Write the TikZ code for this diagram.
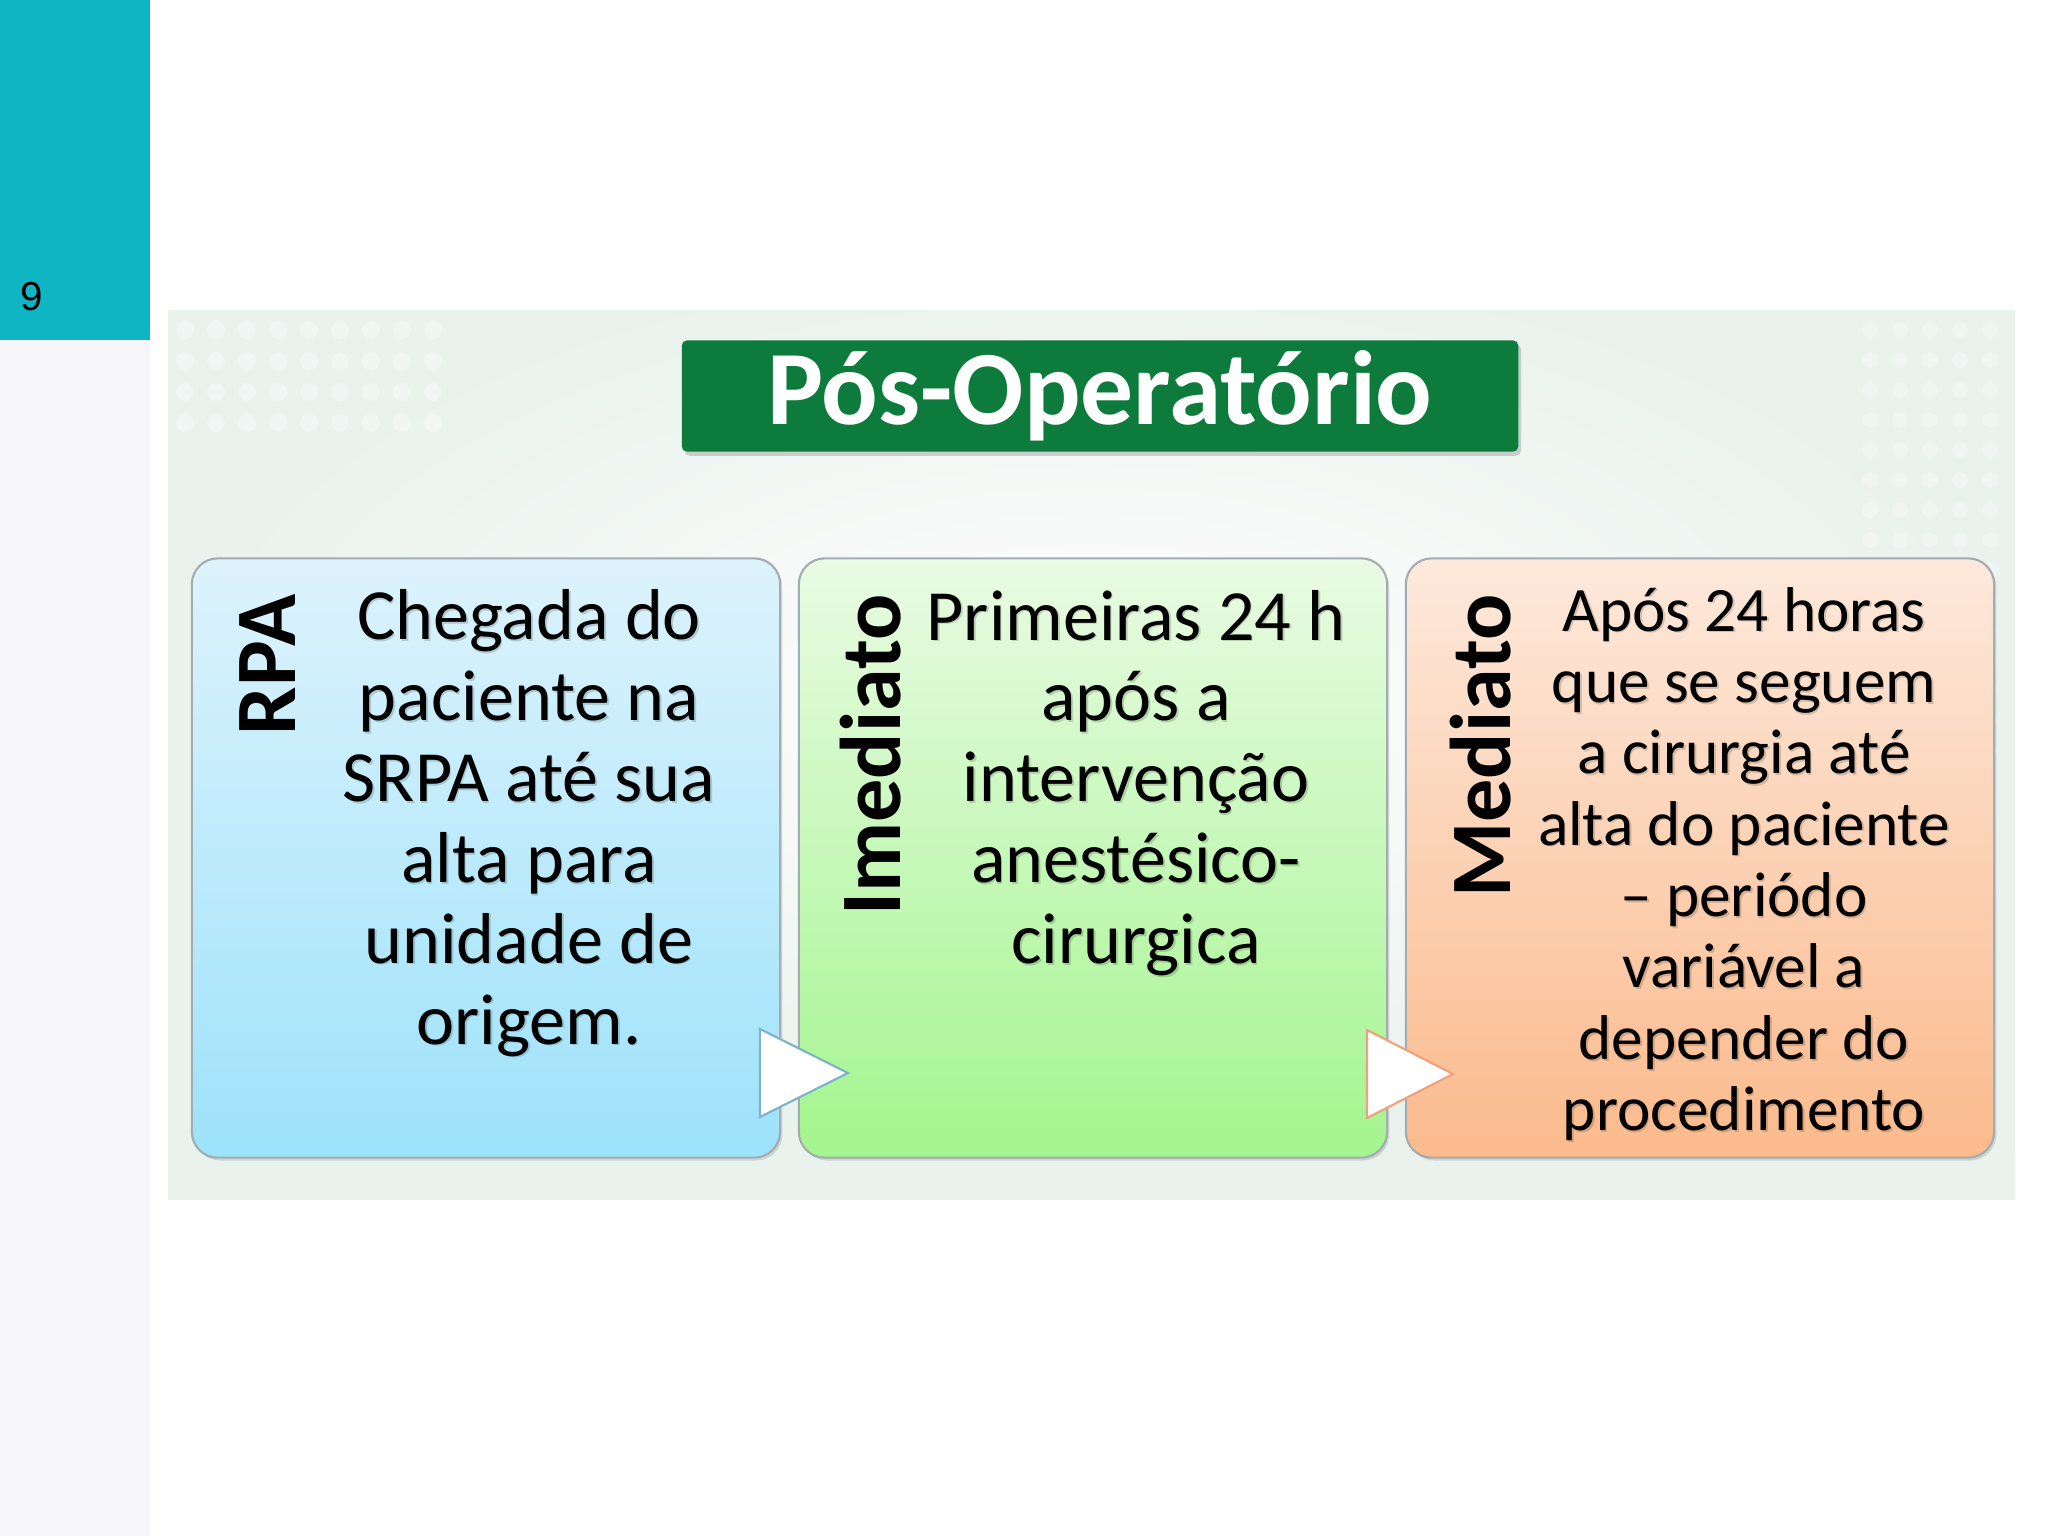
\documentclass[tikz,border=0pt]{standalone}
\usepackage{fontspec}
\setmainfont{Carlito}
\newfontfamily\arialfont{Liberation Sans}
\usetikzlibrary{shadows}
\definecolor{slidecyan}{RGB}{16,181,196}
\definecolor{sidegray}{HTML}{F6F5F8}
\definecolor{bgouter}{HTML}{E9F2ED}
\definecolor{titlegreen}{HTML}{0D7B3B}
\definecolor{boxline}{HTML}{A3ADB1}
\definecolor{blueTop}{HTML}{DDF3FC}
\definecolor{blueBot}{HTML}{9DE2FB}
\definecolor{greenTop}{HTML}{E9FBE3}
\definecolor{greenBot}{HTML}{A3F58E}
\definecolor{orangeTop}{HTML}{FDE9DC}
\definecolor{orangeBot}{HTML}{FBBA8C}
\definecolor{arrowblue}{HTML}{7FB3CC}
\definecolor{arroworange}{HTML}{F0A07E}
\tikzset{
  phasebox/.style={draw=boxline, line width=0.6pt, rounded corners=0.26cm,
    minimum width=5.88cm, minimum height=5.99cm, inner sep=0pt,
    drop shadow={shadow xshift=0.6pt, shadow yshift=-0.8pt, opacity=0.25}},
  titlebox/.style={fill=titlegreen, rounded corners=0.05cm, minimum width=8.36cm,
    minimum height=1.11cm, inner sep=0pt, text=white,
    font=\bfseries\fontsize{30}{32}\selectfont,
    drop shadow={shadow xshift=0.8pt, shadow yshift=-1.2pt, opacity=0.35}},
  sidelabel/.style={rotate=90, anchor=east, inner sep=0pt,
    font=\bfseries\fontsize{24.5}{26}\selectfont},
  bodytext/.style={align=center, inner sep=0pt, font=\fontsize{20.5}{23}\selectfont},
  bodytextsmall/.style={align=center, inner sep=0pt, font=\fontsize{18}{20.3}\selectfont},
  textshadow/.style={text=black, opacity=0.16, xshift=0.5pt, yshift=-0.5pt},
  steparrow/.style={fill=white, line width=0.6pt, line join=miter}
}
\begin{document}
\begin{tikzpicture}[x=0.01cm, y=-0.01cm]
\useasboundingbox (0,0) rectangle (2048,1536);
\fill[white] (0,0) rectangle (2048,1536);
% left side bar
\fill[slidecyan] (0,0) rectangle (150,340);
\fill[sidegray] (0,340) rectangle (150,1536);
\node[font=\arialfont\fontsize{11.5}{13}\selectfont, inner sep=0pt] (pagenum) at (32,297) {9};
% picture background
\begin{scope}
\clip (168,310) rectangle (2015,1200);
\fill[bgouter] (168,310) rectangle (2015,1200);
\shade[inner color=white, outer color=bgouter] (168,250) rectangle (2015,1150);
% faint dots
\foreach \i in {0,...,8}{
  \foreach \j in {0,...,3}{
    \fill[white, opacity=0.35] (185+\i*31,330+\j*31) circle (9);
  }
}
\foreach \i in {0,...,4}{
  \foreach \j in {0,...,14}{
    \fill[white, opacity=0.3] (1870+\i*30,330+\j*30) circle (8);
  }
}
\end{scope}
% title
\node[titlebox] (title) at (1100,396) {Pós-Operatório};
% phase boxes
\node[phasebox, top color=blueTop, bottom color=blueBot] (box1) at (486,858) {};
\node[phasebox, top color=greenTop, bottom color=greenBot] (box2) at (1093,858) {};
\node[phasebox, top color=orangeTop, bottom color=orangeBot] (box3) at (1700,858) {};
% arrows between boxes
\coordinate (a1t) at (760,1029);
\coordinate (a1p) at (848,1073);
\coordinate (a1b) at (760,1117);
\draw[steparrow, draw=arrowblue] (a1t) -- (a1p) -- (a1b) -- cycle;
\coordinate (a2t) at (1367,1030);
\coordinate (a2p) at (1453,1074);
\coordinate (a2b) at (1367,1118);
\draw[steparrow, draw=arroworange] (a2t) -- (a2p) -- (a2b) -- cycle;
% labels
\node[sidelabel] (lab1) at (268,594) {RPA};
\node[sidelabel] (lab2) at (871,594) {Imediato};
\node[sidelabel] (lab3) at (1481,594) {Mediato};
% texts (with soft shadow)
\node[bodytext, textshadow] (txt1s) at (529,823) {Chegada do\\paciente na\\SRPA até sua\\alta para\\unidade de\\origem.};
\node[bodytext] (txt1) at (529,823) {Chegada do\\paciente na\\SRPA até sua\\alta para\\unidade de\\origem.};
\node[bodytext, textshadow] (txt2s) at (1136,783) {Primeiras 24 h\\após a\\intervenção\\anestésico-\\cirurgica};
\node[bodytext] (txt2) at (1136,783) {Primeiras 24 h\\após a\\intervenção\\anestésico-\\cirurgica};
\node[bodytextsmall, textshadow] (txt3s) at (1744,864) {Após 24 horas\\que se seguem\\a cirurgia até\\alta do paciente\\– periódo\\variável a\\depender do\\procedimento};
\node[bodytextsmall] (txt3) at (1744,864) {Após 24 horas\\que se seguem\\a cirurgia até\\alta do paciente\\– periódo\\variável a\\depender do\\procedimento};
\end{tikzpicture}
\end{document}
